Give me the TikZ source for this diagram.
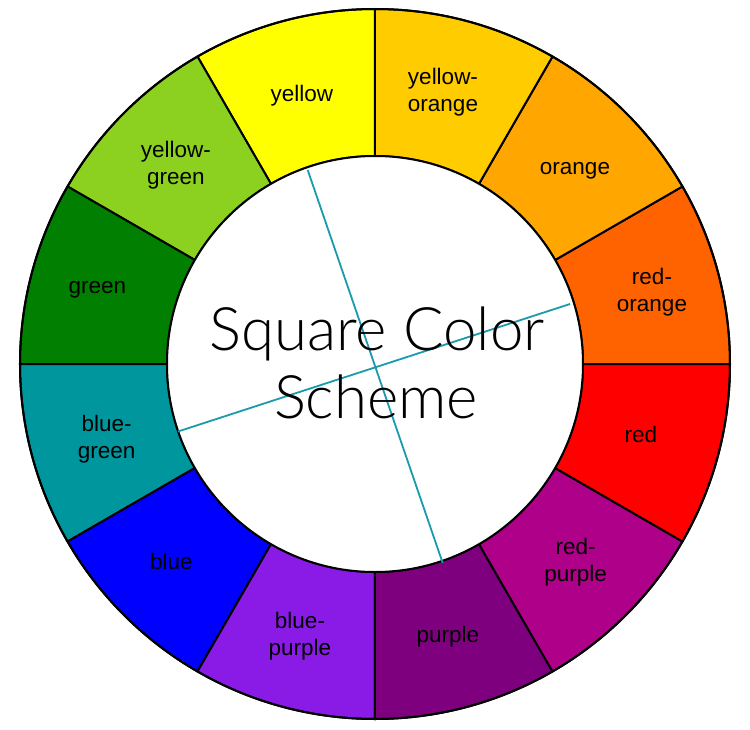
\documentclass[tikz,border=0pt]{standalone}
\usepackage{fontspec}
\setmainfont{Liberation Sans}
\newfontfamily\titlefont{Lato Light}
\definecolor{cRO}{HTML}{FF6300}
\definecolor{cO}{HTML}{FFA600}
\definecolor{cYO}{HTML}{FFCC00}
\definecolor{cY}{HTML}{FFFF00}
\definecolor{cYG}{HTML}{8CD11F}
\definecolor{cG}{HTML}{007F00}
\definecolor{cBG}{HTML}{00969E}
\definecolor{cB}{HTML}{0000FF}
\definecolor{cBP}{HTML}{8A1AE6}
\definecolor{cP}{HTML}{7F007F}
\definecolor{cRP}{HTML}{AE0089}
\definecolor{cR}{HTML}{FF0000}
\definecolor{teal}{HTML}{1A9BAD}
\begin{document}
\begin{tikzpicture}[x=1pt,y=1pt,
  seg/.style={draw=black,line width=2pt,line join=round},
  lbl/.style={font=\fontsize{22.5}{26.5}\selectfont,align=center,anchor=base,inner sep=0pt,text=black},
  ttl/.style={font=\titlefont\fontsize{60}{68}\selectfont,anchor=base,inner sep=0pt},
  diag/.style={draw=teal,line width=1.8pt}]
\useasboundingbox (-375,-365) rectangle (375,364);
\fill[white] (-375,-365) rectangle (375,364);
\foreach \a/\c in {0/cRO,30/cO,60/cYO,90/cY,120/cYG,150/cG,180/cBG,210/cB,240/cBP,270/cP,300/cRP,330/cR}{
  \path[seg,fill=\c] (\a:208pt) arc[start angle=\a,delta angle=30,radius=208pt]
    -- (\a+30:355pt) arc[start angle=\a+30,delta angle=-30,radius=355pt] -- cycle;
}
\draw[seg,fill=white] (0,0) circle[radius=208pt];
\draw[seg] (0,0) circle[radius=355pt];
% labels (base = baseline of the last line)
\node[lbl] (ly)  at (-73,262) {yellow};
\node[lbl] (lyo) at (68,253) {yellow-\\orange};
\node[lbl] (lo)  at (200,190) {orange};
\node[lbl] (lro) at (277,53) {red-\\orange};
\node[lbl] (lr)  at (266,-78) {red};
\node[lbl] (lrp) at (200.7,-217) {red-\\purple};
\node[lbl] (lp)  at (73,-278) {purple};
\node[lbl] (lbp) at (-75,-291) {blue-\\purple};
\node[lbl] (lb)  at (-203.5,-205) {blue};
\node[lbl] (lbg) at (-268.4,-94) {blue-\\green};
\node[lbl] (lg)  at (-277.5,71) {green};
\node[lbl] (lyg) at (-199,180) {yellow-\\green};
% square scheme lines
\coordinate (p1) at (-67.3,194);
\coordinate (p2) at (67.7,-199);
\coordinate (q1) at (-197,-67.5);
\coordinate (q2) at (195,60);
\draw[diag] (p1) -- (p2);
\draw[diag] (q1) -- (q2);
% title
\node[ttl] (t1) at (2,14) {Square Color};
\node[ttl] (t2) at (1,-54) {Scheme};
\end{tikzpicture}
\end{document}
